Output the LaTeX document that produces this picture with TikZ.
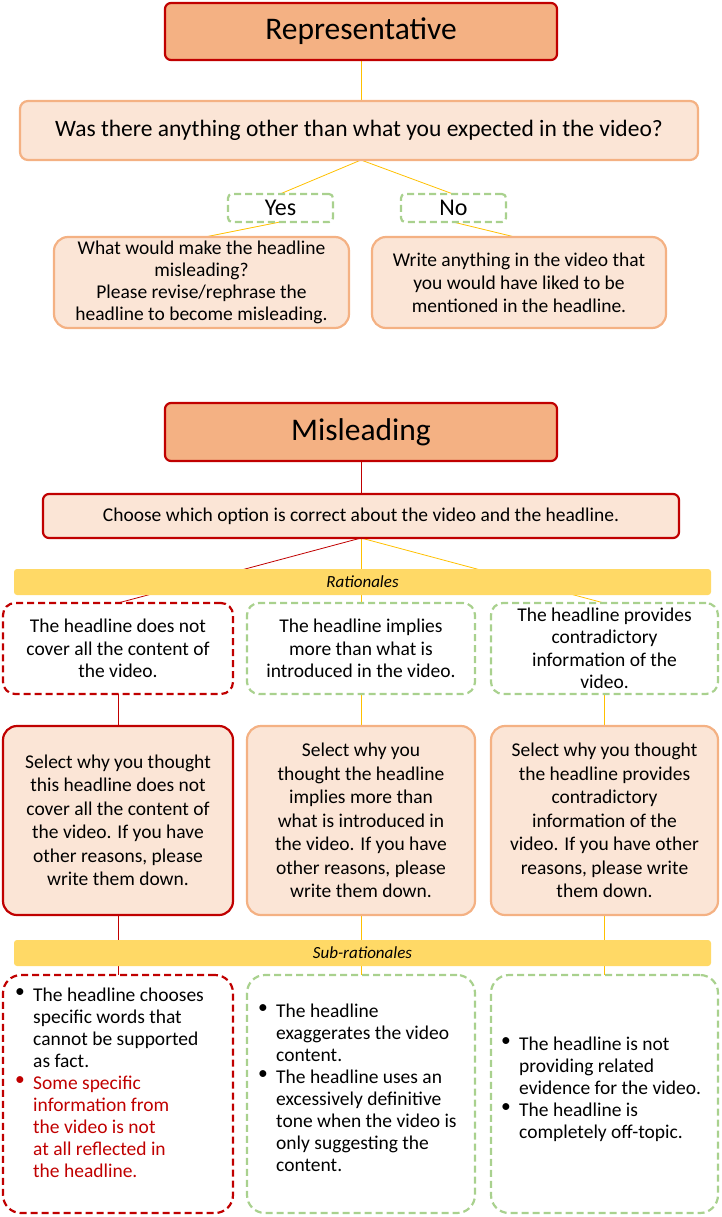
\documentclass[tikz,border=0pt]{standalone}
\usepackage{fontspec}
\setmainfont{Carlito}
\definecolor{dred}{HTML}{C00000}
\definecolor{lor}{HTML}{F4B183}
\definecolor{pale}{HTML}{FBE5D6}
\definecolor{gr}{HTML}{A9D18E}
\definecolor{yl}{HTML}{FFC000}
\definecolor{bar}{HTML}{FFD966}
\begin{document}
\begin{tikzpicture}[x=1pt,y=-1pt,
 title/.style={draw=dred,line width=2.2pt,fill=lor,rounded corners=6pt,font=\fontsize{31.5}{36}\selectfont},
 pbox/.style={draw=lor,line width=2.2pt,fill=pale,rounded corners=14pt,align=center,font=\fontsize{19.5}{22.5}\selectfont},
 rbox/.style={draw=dred,line width=2.2pt,fill=pale,rounded corners=14pt,align=center,font=\fontsize{19.5}{22.5}\selectfont},
 gdash/.style={draw=gr,dash pattern=on 7pt off 4pt,line width=2.2pt,rounded corners=12pt,align=center,font=\fontsize{19.5}{22.5}\selectfont},
 rdash/.style={draw=dred,dash pattern=on 7pt off 4pt,line width=2.2pt,rounded corners=12pt,align=center,font=\fontsize{19.5}{22.5}\selectfont},
 barst/.style={fill=bar,rounded corners=3pt,font=\fontsize{17}{20}\selectfont\itshape},
 yline/.style={draw=yl,line width=0.8pt},
 rline/.style={draw=dred,line width=0.8pt}]
\useasboundingbox (0,0) rectangle (721,1217);
\newcommand{\bx}[6]{\node[#1,minimum width=#4-#2,minimum height=#5-#3,inner sep=2pt] (#6) at ({(#2+#4)/2},{(#3+#5)/2})}
\draw[yline] (361,60) -- (361,101);
\draw[yline] (361,160) -- (280,194);
\draw[yline] (361,160) -- (453,194);
\draw[yline] (280,222) -- (200,238);
\draw[yline] (453,222) -- (519,238);
\draw[rline] (361,461) -- (361,494);
\draw[rline] (361,538) -- (118,603);
\draw[yline] (361,538) -- (361,603);
\draw[yline] (361,538) -- (604,603);
\draw[rline] (118,694) -- (118,726);
\draw[yline] (361,694) -- (361,726);
\draw[yline] (604,694) -- (604,726);
\draw[rline] (118,915) -- (118,975);
\draw[yline] (361,915) -- (361,975);
\draw[yline] (604,915) -- (604,975);
\bx{title}{165}{3}{557}{60}{rep} {Representative};
\bx{pbox,rounded corners=8pt,font=\fontsize{23.5}{27}\selectfont}{20}{101}{698}{160}{q} {Was there anything other than what you expected in the video?};
\bx{gdash,rounded corners=4pt,font=\fontsize{24}{27}\selectfont}{228}{194}{333}{222}{yes} {Yes};
\bx{gdash,rounded corners=4pt,font=\fontsize{24}{27}\selectfont}{401}{194}{506}{222}{no} {No};
\bx{pbox,font=\fontsize{19.5}{22}\selectfont}{54}{237}{349}{328}{yb} {What would make the headline\\misleading?\\Please revise/rephrase the\\headline to become misleading.};
\bx{pbox,font=\fontsize{19.5}{23}\selectfont}{372}{237}{666}{328}{nb} {Write anything in the video that\\you would have liked to be\\mentioned in the headline.};
\bx{title}{165}{403}{557}{461}{mis} {Misleading};
\bx{rbox,rounded corners=6pt}{43}{494}{679}{538}{ch} {Choose which option is correct about the video and the headline.};
\bx{barst}{14}{569}{711}{595}{rat} {Rationales};
\bx{rdash}{3}{603}{233}{694}{r1} {The headline does not\\cover all the content of\\the video.};
\bx{gdash}{247}{603}{475}{694}{r2} {The headline implies\\more than what is\\introduced in the video.};
\bx{gdash}{491}{603}{718}{694}{r3} {The headline provides\\contradictory\\information of the\\video.};
\bx{rbox,font=\fontsize{19.5}{23.5}\selectfont}{3}{726}{233}{915}{s1} {Select why you thought\\this headline does not\\cover all the content of\\the video. If you have\\other reasons, please\\write them down.};
\bx{pbox,font=\fontsize{19.5}{23.5}\selectfont}{247}{726}{475}{915}{s2} {Select why you\\thought the headline\\implies more than\\what is introduced in\\the video. If you have\\other reasons, please\\write them down.};
\bx{pbox,font=\fontsize{19.5}{23.5}\selectfont}{491}{726}{718}{915}{s3} {Select why you thought\\the headline provides\\contradictory\\information of the\\video. If you have other\\reasons, please write\\them down.};
\bx{barst}{14}{940}{711}{966}{sub} {Sub-rationales};
\bx{rdash,rounded corners=18pt}{3}{975}{233}{1213}{b1} {};
\bx{gdash,rounded corners=18pt}{247}{975}{475}{1213}{b2} {};
\bx{gdash,rounded corners=18pt}{491}{975}{718}{1213}{b3} {};
\begin{scope}[every node/.style={anchor=north west,align=left,font=\fontsize{19.5}{22}\selectfont,inner sep=0pt}]
\node (t1a) at (15,988) {•};
\node (t1b) at (33,988) {The headline chooses\\specific words that\\cannot be supported\\as fact.};
\node[text=dred] (t1c) at (15,1076) {•};
\node[text=dred] (t1d) at (33,1076) {Some specific\\information from\\the video is not\\at all reflected in\\the headline.};
\node (t2a) at (258,1004) {•};
\node (t2b) at (276,1004) {The headline\\exaggerates the video\\content.};
\node (t2c) at (258,1070) {•};
\node (t2d) at (276,1070) {The headline uses an\\excessively definitive\\tone when the video is\\only suggesting the\\content.};
\node (t3a) at (501,1037) {•};
\node (t3b) at (519,1037) {The headline is not\\providing related\\evidence for the video.};
\node (t3c) at (501,1103) {•};
\node (t3d) at (519,1103) {The headline is\\completely off-topic.};
\end{scope}
\end{tikzpicture}
\end{document}
